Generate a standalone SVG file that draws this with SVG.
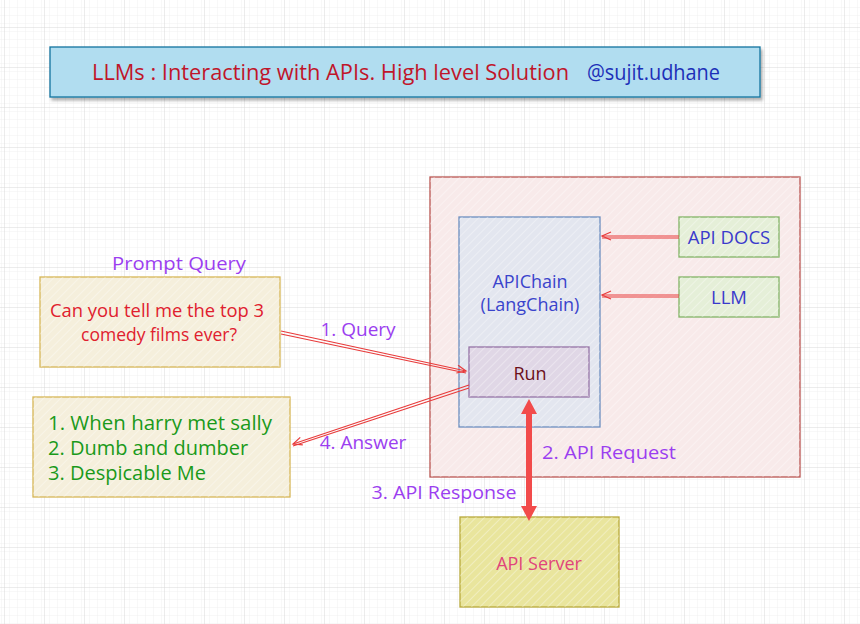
<svg xmlns="http://www.w3.org/2000/svg" width="860" height="624" viewBox="0 0 860 624">
<defs>
<pattern id="minor" width="8" height="8" patternUnits="userSpaceOnUse" x="5" y="4">
<path d="M8 0V8M0 8H8" fill="none" stroke="#f0f0f0" stroke-width="1"/>
</pattern>
<pattern id="major" width="40" height="40" patternUnits="userSpaceOnUse" x="5" y="28">
<rect width="40" height="40" fill="url(#minor)"/>
<path d="M40 0V40M0 40H40" fill="none" stroke="#d8d8d8" stroke-width="1"/>
</pattern>
<pattern id="hatch" width="6" height="6" patternUnits="userSpaceOnUse" patternTransform="rotate(45)">
<path d="M0 0V6" stroke="#ffffff" stroke-opacity="0.45" stroke-width="1.5"/>
</pattern>
<filter id="shadow" x="-5%" y="-20%" width="110%" height="150%">
<feDropShadow dx="2" dy="3" stdDeviation="1.5" flood-color="#000" flood-opacity="0.3"/>
</filter>
<marker id="open" markerWidth="12" markerHeight="10" refX="10" refY="5" orient="auto" markerUnits="userSpaceOnUse">
<path d="M1 1L10 5L1 9" fill="none" stroke="#e83a3a" stroke-width="1.2"/>
</marker>
<marker id="fat" markerWidth="16" markerHeight="18" refX="2" refY="9" orient="auto-start-reverse" markerUnits="userSpaceOnUse">
<path d="M0 1L15 9L0 17Z" fill="#f24b4b"/>
</marker>
</defs>
<style>
text{font-family:"Open Sans","Liberation Sans",sans-serif;text-anchor:middle}
.lbl{fill:#9b3ef0;font-size:19px}
.node rect{stroke-width:1.3}
.dbl{fill:none;stroke:#e83a3a;stroke-width:1.2}
</style>
<rect width="860" height="624" fill="#ffffff"/>
<rect width="860" height="624" fill="url(#major)"/>

<g id="title" filter="url(#shadow)">
<rect x="50" y="47" width="710" height="50" fill="#b1ddf0" stroke="#10739e" stroke-width="1.3"/>
</g>
<g id="title-text">
<text x="92" y="80" fill="#c0152a" font-size="21" style="text-anchor:start" textLength="477" lengthAdjust="spacingAndGlyphs">LLMs : Interacting with APIs. High level Solution</text>
<text x="587" y="80" fill="#1c2fb8" font-size="21" style="text-anchor:start" textLength="133" lengthAdjust="spacingAndGlyphs">@sujit.udhane</text>
</g>

<g id="container" class="node">
<rect x="430" y="177" width="370" height="300" fill="#f8eaea" stroke="#b85450"/>
<rect x="430" y="177" width="370" height="300" fill="url(#hatch)"/>
</g>
<g id="apichain" class="node">
<rect x="459" y="217" width="141" height="210" fill="#e3e6ef" stroke="#6c8ebf"/>
<rect x="459" y="217" width="141" height="210" fill="url(#hatch)"/>
<text x="530" y="288" fill="#3a44cc" font-size="18">APIChain</text>
<text x="530" y="311" fill="#3a44cc" font-size="18">(LangChain)</text>
</g>
<g id="run" class="node">
<rect x="469" y="347" width="120" height="50" fill="#e0d7e6" stroke="#9673a6"/>
<rect x="469" y="347" width="120" height="50" fill="url(#hatch)"/>
<text x="530" y="380" fill="#6b0f1a" font-size="18">Run</text>
</g>
<g id="apidocs" class="node">
<rect x="679" y="217" width="100" height="40" fill="#e5efd8" stroke="#82b366"/>
<rect x="679" y="217" width="100" height="40" fill="url(#hatch)"/>
<text x="729" y="244" fill="#3a3acc" font-size="18.5">API DOCS</text>
</g>
<g id="llm" class="node">
<rect x="679" y="277" width="100" height="40" fill="#e5efd8" stroke="#82b366"/>
<rect x="679" y="277" width="100" height="40" fill="url(#hatch)"/>
<text x="729" y="304" fill="#3a3acc" font-size="18.5">LLM</text>
</g>
<g id="prompt-label">
<text x="179" y="270" class="lbl" textLength="134" lengthAdjust="spacingAndGlyphs">Prompt Query</text>
</g>
<g id="prompt" class="node">
<rect x="40" y="277" width="240" height="90" fill="#f5efdc" stroke="#d6b656"/>
<rect x="40" y="277" width="240" height="90" fill="url(#hatch)"/>
<text x="157" y="317" fill="#e0202e" font-size="17.5" textLength="214" lengthAdjust="spacingAndGlyphs">Can you tell me the top 3</text>
<text x="159" y="341" fill="#e0202e" font-size="17.5">comedy films ever?</text>
</g>
<g id="answer" class="node">
<rect x="33" y="397" width="257" height="100" fill="#f5efdc" stroke="#d6b656"/>
<rect x="33" y="397" width="257" height="100" fill="url(#hatch)"/>
<text x="48" y="430" fill="#1a9a1a" font-size="20" style="text-anchor:start" textLength="224" lengthAdjust="spacingAndGlyphs">1. When harry met sally</text>
<text x="48" y="455" fill="#1a9a1a" font-size="20" style="text-anchor:start">2. Dumb and dumber</text>
<text x="48" y="480" fill="#1a9a1a" font-size="20" style="text-anchor:start">3. Despicable Me</text>
</g>
<g id="apiserver" class="node">
<rect x="460" y="517" width="159" height="90" fill="#e9e59d" stroke="#b8a93a"/>
<rect x="460" y="517" width="159" height="90" fill="url(#hatch)"/>
<text x="539" y="570" fill="#e0457b" font-size="18">API Server</text>
</g>

<g id="connectors">
<path class="dbl" d="M281 331L466 371" marker-end="url(#open)"/>
<path class="dbl" d="M281 334L466 373"/>
<path class="dbl" d="M469 385L293 444" marker-end="url(#open)"/>
<path class="dbl" d="M469 388L293 446"/>
<path class="dbl" d="M679 236L602 236" marker-end="url(#open)"/>
<path class="dbl" d="M679 238L602 238"/>
<path class="dbl" d="M679 295L602 295" marker-end="url(#open)"/>
<path class="dbl" d="M679 297L602 297"/>
<path d="M529 412L529 508" stroke="#f24b4b" stroke-width="6" fill="none" marker-start="url(#fat)" marker-end="url(#fat)"/>
<text x="358" y="336" class="lbl" font-size="18">1. Query</text>
<text x="363" y="449" class="lbl" font-size="18">4. Answer</text>
<text x="609" y="459" class="lbl" textLength="134" lengthAdjust="spacingAndGlyphs">2. API Request</text>
<text x="444" y="499" class="lbl" textLength="145" lengthAdjust="spacingAndGlyphs">3. API Response</text>
</g>
</svg>
